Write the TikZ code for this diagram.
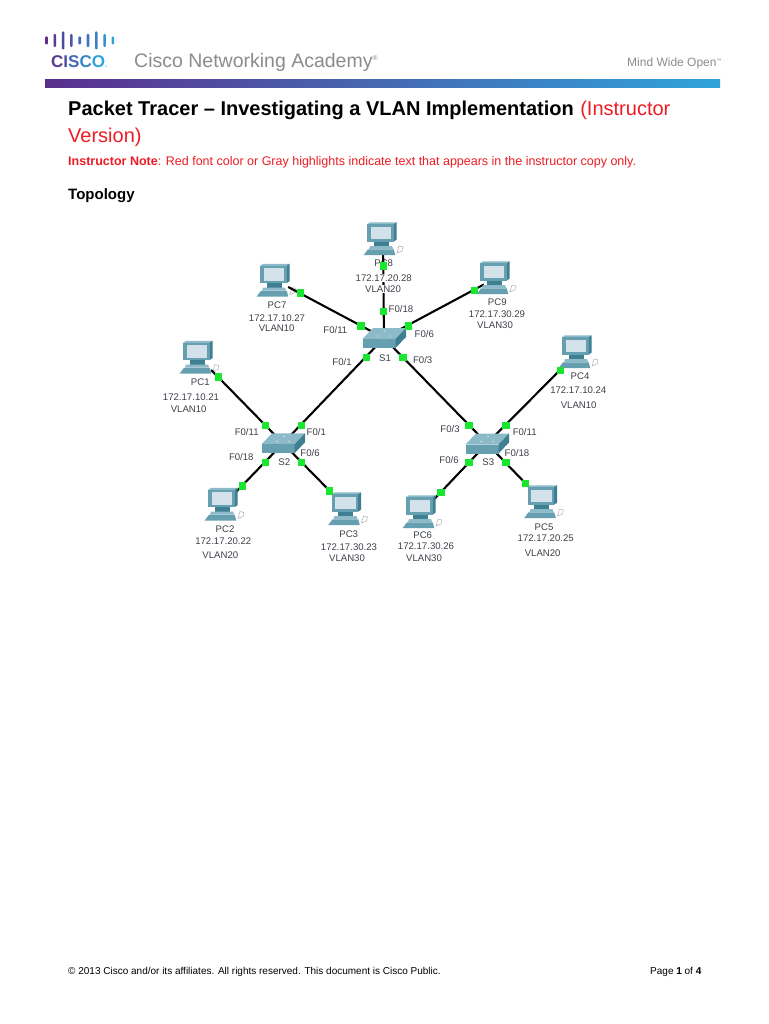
\documentclass[tikz,border=0pt]{standalone}
\usepackage{fontspec}
\setmainfont{Liberation Sans}
\newfontfamily\logofont[LetterSpace=13]{Liberation Sans}
\usetikzlibrary{positioning}
\definecolor{ciscored}{HTML}{ED1C24}
\definecolor{labelgray}{HTML}{3C4048}
\definecolor{teal1}{HTML}{659FB0}
\definecolor{teal2}{HTML}{3F7F92}
\definecolor{teal3}{HTML}{8DBAC8}
\definecolor{screenblue}{HTML}{D3E2EA}
\definecolor{portgreen}{HTML}{19E62E}
\definecolor{logoviolet}{HTML}{5B2E8C}
\definecolor{logoblue}{HTML}{2FA4DA}
\tikzset{
  pagetext/.style={inner sep=0pt, anchor=base west},
  netlabel/.style={font=\fontsize{9.6}{10}\selectfont, text=labelgray, inner sep=0.5pt},
  ipwhite/.style={netlabel, fill=white},
  pcnode/.style={rectangle, minimum width=24pt, minimum height=32pt, inner sep=0pt},
  switchnode/.style={rectangle, minimum width=20pt, minimum height=14pt, inner sep=0pt},
  link/.style={line width=2.1pt, black},
  portdot/.style={rectangle, fill=portgreen, minimum size=7.5pt, inner sep=0pt},
  mouseicon/.pic={
    \draw[gray!60, line width=0.5pt] (16,7) -- (20,8) -- (19,12) -- (14,14) -- cycle;
  },
  pcicon/.pic={
    \fill[teal3] (-15.8,-14.7) -- (-13,-16.7) -- (13.5,-16.7) -- (10.5,-14.7) -- cycle;
    \fill[teal2] (10.5,-14.7) -- (13.5,-16.7) -- (13.5,0.7) -- (10.5,2.7) -- cycle;
    \fill[teal1] (-15.8,-14.7) rectangle (10.5,2.7);
    \fill[screenblue] (-12.5,-12.3) rectangle (8.2,0.3);
    \fill[teal2] (-9.3,2.7) rectangle (5.7,7);
    \fill[teal3] (-13,7) -- (9,7) -- (10,10) -- (-14,10) -- cycle;
    \fill[teal1] (-15,10.3) -- (10.7,10.3) -- (12.3,16) -- (-19.3,16) -- cycle;
  },
  switchicon/.pic={
    \fill[teal3] (-21.5,1) -- (-11,-10) -- (22,-10) -- (11.5,1) -- cycle;
    \fill[teal1] (-21.5,1) rectangle (11.5,10);
    \fill[teal2] (11.5,1) -- (22,-10) -- (22,-1) -- (11.5,10) -- cycle;
    \fill[white] (-6,-2) circle (0.7) (1,-7) circle (0.7) (6,-2) circle (0.7);
  }
}

\begin{document}
\begin{tikzpicture}[x=1pt, y=-1pt]
\useasboundingbox (0,0) rectangle (768,1024);
\fill[white] (0,0) rectangle (768,1024);

% Logo
\foreach \i/\h/\c in {0/8/0, 1/13/12, 2/18/24, 3/13/36, 4/8/48, 5/13/60, 6/18/72, 7/13/86, 8/8/100} {
  \pgfmathsetmacro{\barx}{46.5+\i*8.3}
  \fill[logoblue!\c!logoviolet, rounded corners=1pt] (\barx-1.3,40.5-\h/2) rectangle (\barx+1.3,40.5+\h/2);
}
\node (cisco) [inner sep=0pt, anchor=base west, font=\logofont\bfseries\fontsize{17}{18}\selectfont] at (51,67.7)
  {\textcolor{logoblue!10!logoviolet}{C}\textcolor{logoblue!30!logoviolet}{I}\textcolor{logoblue!50!logoviolet}{S}\textcolor{logoblue!75!logoviolet}{C}\textcolor{logoblue}{O}\textcolor{logoblue!60}{\fontsize{9}{9}\selectfont.}};
\node (academy) [pagetext, font=\fontsize{19.5}{22}\selectfont, text=gray!90] at (134,68) {Cisco Networking Academy\textsuperscript{\fontsize{7}{7}\selectfont®}};
\node (mindwide) [pagetext, font=\fontsize{12}{12}\selectfont, text=gray!90] at (627,67) {Mind Wide Open\textsuperscript{\fontsize{5}{5}\selectfont™}};
\shade[left color=logoviolet, middle color=blue!55!black!90!cyan, right color=logoblue] (45,80) rectangle (720,88);

% Titre
\node (title) [pagetext, font=\bfseries\fontsize{20}{22}\selectfont] at (68,116) {Packet Tracer – Investigating a VLAN Implementation};
\node (instructor) [pagetext, font=\fontsize{20}{22}\selectfont, text=ciscored, right=6pt of title.base east, anchor=base west] {(Instructor};
\node (version) [pagetext, font=\fontsize{20}{22}\selectfont, text=ciscored] at (68,143) {Version)};
\node (note) [pagetext, font=\fontsize{12.5}{13}\selectfont, text=ciscored] at (68,166) {\textbf{Instructor Note}: Red font color or Gray highlights indicate text that appears in the instructor copy only.};
\node (topology) [pagetext, font=\bfseries\fontsize{15}{16}\selectfont] at (68,200) {Topology};

% Pied de page
\node (copyright) [pagetext, font=\fontsize{10}{11}\selectfont] at (68,974) {© 2013 Cisco and/or its affiliates. All rights reserved. This document is Cisco Public.};
\node (page) [pagetext, font=\fontsize{10}{11}\selectfont] at (650,974) {Page \textbf{1} of \textbf{4}};

% Postes et commutateurs
\foreach \pc/\x/\y in {pc1/199/357.5, pc2/224/504.5, pc3/347.5/509, pc4/578/352, pc5/543.5/502, pc6/422/512, pc7/276/280.5, pc8/383/239, pc9/496/278} {
  \node (\pc) [pcnode] at (\x,\y) {};
  \pic at (\pc) {mouseicon};
}
\node (s1) [switchnode] at (384,338) {};
\node (s2) [switchnode] at (283,443.3) {};
\node (s3) [switchnode] at (487,443.5) {};

% Le texte PC8 passe sous le lien
\node (pc8name) [netlabel] at (383.7,263.3) {PC8};

% Liens
\foreach \a/\b in {pc7/s1, pc8/s1, pc9/s1, s1/s2, s1/s3, pc1/s2, pc2/s2, pc3/s2, pc4/s3, pc5/s3, pc6/s3} {
  \draw [link] (\a) -- (\b);
}

% Icones
\foreach \pc in {pc1, pc2, pc3, pc4, pc5, pc6, pc7, pc8, pc9} {
  \pic at (\pc) {pcicon};
}
\foreach \sw in {s1, s2, s3} {
  \pic at (\sw) {switchicon};
}

% Ports
\foreach \x/\y [count=\n] in {300.3/293, 361/326, 383.7/266, 383.7/311.7, 474.3/290.3, 408.3/326, 366.7/357.5, 403/357.5,
  218.3/377, 265.3/425.7, 301.7/425.7, 265.3/462.7, 301.7/462.7, 242.3/486, 329.3/491,
  469/425.7, 506/425.7, 469/462.7, 506/462.7, 560.3/370.7, 441/492.7, 525.3/483.3} {
  \node (port\n) [portdot] at (\x,\y) {};
}

% Etiquettes des postes
\foreach \t/\x/\y [count=\n] in {PC7/277/304.7, 172.17.10.27/277/317.7, VLAN10/276.7/328.3,
  PC9/497.3/302.3, 172.17.30.29/497/314, VLAN30/495/325,
  PC1/200.3/382.3, 172.17.10.21/191/397, VLAN10/188.7/409.3,
  PC2/225/529.3, 172.17.20.22/223.3/541, VLAN20/220.3/554.7,
  PC3/348.7/534.3, 172.17.30.23/349/546.7, VLAN30/347/558,
  PC4/580/375.7, 172.17.10.24/578.3/390.3, VLAN10/578.7/405.3,
  PC5/544/526.7, 172.17.20.25/545.7/538.3, VLAN20/542.7/553,
  PC6/422.7/535, 172.17.30.26/426/546, VLAN30/424/558,
  S1/385/357.7, S2/284.3/462.3, S3/488.3/462} {
  \node (lab\n) [netlabel] at (\x,\y) {\t};
}
\node (pc8ip) [ipwhite] at (383.7,277.7) {172.17.20.28};
\node (pc8vlan) [ipwhite] at (383,289) {VLAN20};

% Etiquettes des ports
\foreach \t/\x/\y [count=\n] in {{F0/11}/335.3/330, {F0/18}/401/309.3, {F0/6}/424.3/333.7, {F0/1}/342/361.7, {F0/3}/422.7/360,
  {F0/11}/246.7/432, {F0/1}/316.3/432, {F0/18}/241.3/456.7, {F0/6}/310/453.3,
  {F0/3}/450/428.7, {F0/11}/524.7/432, {F0/6}/449/459.7, {F0/18}/517/453.3} {
  \node (fa\n) [netlabel] at (\x,\y) {\t};
}
\end{tikzpicture}
\end{document}
